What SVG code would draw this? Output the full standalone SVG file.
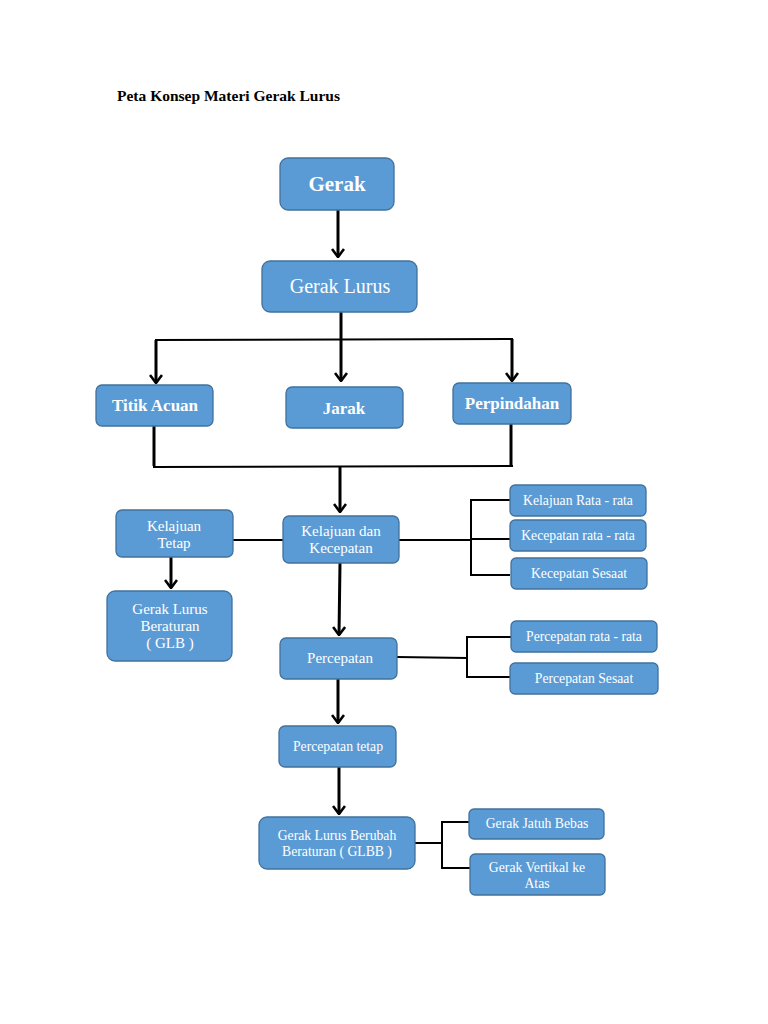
<svg xmlns="http://www.w3.org/2000/svg" width="768" height="1024" viewBox="0 0 768 1024">
<defs>
<style>
.n rect{fill:#5b9bd5;stroke:#41719c;stroke-width:1.3}
.n text{fill:#fff;font-family:"Liberation Serif","Times New Roman",serif;text-anchor:middle}
.big{font-size:20px}
.mid{font-size:17px;font-weight:bold}
.sm{font-size:15px}
.xs{font-size:13.7px}
.c line,.c polyline{stroke:#000;fill:none}
.a{stroke-width:3}
.l{stroke-width:2}
</style>
<marker id="ah" markerWidth="10" markerHeight="14" refX="9" refY="7" orient="auto" markerUnits="userSpaceOnUse" viewBox="0 0 10 14">
<polyline points="1,1 9,7 1,13" fill="none" stroke="#000" stroke-width="2.6"/>
</marker>
</defs>
<rect width="768" height="1024" fill="#fff"/>
<text x="117" y="101" font-family="'Liberation Serif','Times New Roman',serif" font-size="15.5" font-weight="bold" fill="#000">Peta Konsep Materi Gerak Lurus</text>

<g class="c">
<line class="a" x1="338" y1="210" x2="338" y2="257" marker-end="url(#ah)"/>
<line class="a" x1="341" y1="312" x2="341" y2="381" marker-end="url(#ah)"/>
<line class="l" x1="155" y1="340" x2="513" y2="339"/>
<line class="a" x1="156" y1="340" x2="156" y2="383" marker-end="url(#ah)"/>
<line class="a" x1="512" y1="339" x2="512" y2="381" marker-end="url(#ah)"/>
<line class="a" x1="154" y1="426" x2="154" y2="466"/>
<line class="a" x1="511" y1="422" x2="511" y2="466"/>
<line class="l" x1="153" y1="467" x2="513" y2="466"/>
<line class="a" x1="340" y1="466" x2="340" y2="512" marker-end="url(#ah)"/>
<line class="l" x1="233" y1="540" x2="283" y2="540"/>
<line class="a" x1="171" y1="557" x2="171" y2="588" marker-end="url(#ah)"/>
<line class="l" x1="399" y1="540" x2="471" y2="540"/>
<polyline class="l" points="510,500 471,500 471,575 510,575"/>
<line class="l" x1="471" y1="539" x2="510" y2="539"/>
<line class="a" x1="340" y1="563" x2="339" y2="635" marker-end="url(#ah)"/>
<line class="l" x1="397" y1="657" x2="467" y2="658"/>
<polyline class="l" points="511,637 467,637 467,677 511,677"/>
<line class="a" x1="338" y1="679" x2="338" y2="723" marker-end="url(#ah)"/>
<line class="a" x1="339" y1="767" x2="339" y2="814" marker-end="url(#ah)"/>
<line class="l" x1="415" y1="843" x2="443" y2="843"/>
<polyline class="l" points="469,822 442,822 442,868 470,868"/>
</g>

<g id="gerak" class="n"><rect x="280" y="158" width="114" height="52" rx="8"/><text x="337" y="191" font-size="21" font-weight="bold">Gerak</text></g>
<g id="gerak-lurus" class="n"><rect x="262" y="261" width="155" height="51" rx="8"/><text x="340" y="293" class="big">Gerak Lurus</text></g>
<g id="titik-acuan" class="n"><rect x="96" y="385" width="117" height="41" rx="6"/><text x="155" y="411" class="mid">Titik Acuan</text></g>
<g id="jarak" class="n"><rect x="286" y="387" width="117" height="41" rx="6"/><text x="344" y="414" class="mid" font-size="18">Jarak</text></g>
<g id="perpindahan" class="n"><rect x="453" y="383" width="118" height="41" rx="6"/><text x="512" y="409" class="mid">Perpindahan</text></g>
<g id="kelajuan-tetap" class="n"><rect x="116" y="510" width="117" height="47" rx="6"/><text x="174" y="531" class="sm">Kelajuan</text><text x="174" y="548" class="sm">Tetap</text></g>
<g id="glb" class="n"><rect x="107" y="591" width="125" height="70" rx="8"/><text x="170" y="614" class="sm">Gerak Lurus</text><text x="170" y="631" class="sm">Beraturan</text><text x="170" y="648" class="sm">( GLB )</text></g>
<g id="kelajuan-kecepatan" class="n"><rect x="283" y="516" width="116" height="47" rx="6"/><text x="341" y="536" class="sm">Kelajuan dan</text><text x="341" y="553" class="sm">Kecepatan</text></g>
<g id="kelajuan-rata" class="n"><rect x="510" y="485" width="136" height="31" rx="5"/><text x="578" y="505" class="xs">Kelajuan Rata - rata</text></g>
<g id="kecepatan-rata" class="n"><rect x="510" y="520" width="136" height="31" rx="5"/><text x="578" y="540" class="xs">Kecepatan rata - rata</text></g>
<g id="kecepatan-sesaat" class="n"><rect x="511" y="558" width="136" height="31" rx="5"/><text x="579" y="578" class="xs">Kecepatan Sesaat</text></g>
<g id="percepatan" class="n"><rect x="280" y="638" width="117" height="41" rx="6"/><text x="340" y="663" class="sm">Percepatan</text></g>
<g id="percepatan-rata" class="n"><rect x="511" y="621" width="146" height="31" rx="5"/><text x="584" y="641" class="xs">Percepatan rata - rata</text></g>
<g id="percepatan-sesaat" class="n"><rect x="510" y="663" width="148" height="31" rx="5"/><text x="584" y="683" class="xs">Percepatan Sesaat</text></g>
<g id="percepatan-tetap" class="n"><rect x="279" y="726" width="117" height="41" rx="6"/><text x="338" y="751" class="xs">Percepatan tetap</text></g>
<g id="glbb" class="n"><rect x="259" y="817" width="156" height="52" rx="8"/><text x="337" y="840" class="xs">Gerak Lurus Berubah</text><text x="337" y="856" class="xs">Beraturan ( GLBB )</text></g>
<g id="jatuh-bebas" class="n"><rect x="469" y="809" width="135" height="30" rx="5"/><text x="537" y="828" class="xs">Gerak Jatuh Bebas</text></g>
<g id="vertikal" class="n"><rect x="470" y="854" width="135" height="41" rx="5"/><text x="537" y="872" class="xs">Gerak Vertikal ke</text><text x="537" y="888" class="xs">Atas</text></g>
</svg>
